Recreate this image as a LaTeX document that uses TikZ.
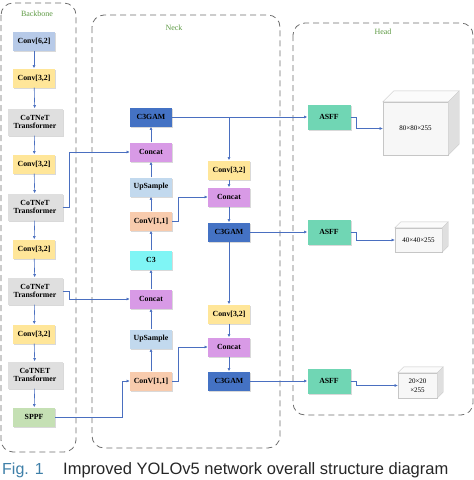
\documentclass[tikz,border=0pt]{standalone}
\usepackage{fontspec}
\setmainfont{Liberation Serif}
\newfontfamily\capfont{Liberation Sans}
\usetikzlibrary{positioning, arrows.meta, shadows}

\definecolor{lnblue}{HTML}{4A6FC0}
\definecolor{boxgray}{HTML}{6E6E6E}
\definecolor{lblgreen}{HTML}{5E9A44}
\definecolor{cconv}{HTML}{B7CAE8}
\definecolor{cyel}{HTML}{FFE699}
\definecolor{ccot}{HTML}{DFDFDF}
\definecolor{csppf}{HTML}{C5E0B4}
\definecolor{cgam}{HTML}{4472C4}
\definecolor{ccat}{HTML}{D89AE6}
\definecolor{cup}{HTML}{C2D9EE}
\definecolor{cone}{HTML}{F8CBAD}
\definecolor{cthree}{HTML}{7FF5F5}
\definecolor{casff}{HTML}{70D6B4}
\definecolor{figblue}{HTML}{3E7FA8}

\begin{document}
\begin{tikzpicture}[x=1pt, y=-1pt, >={Latex[length=3.2pt,width=3pt]},
  blk/.style = {fill=#1, minimum width=42pt, minimum height=19pt, inner sep=1pt,
    font=\fontsize{7.8}{8.6}\selectfont\bfseries, align=center,
    drop shadow={shadow xshift=1.2pt, shadow yshift=-1.2pt, opacity=.3}},
  tall/.style = {blk=ccot, minimum width=55pt, minimum height=27pt},
  asff/.style = {blk=casff, minimum width=43pt, minimum height=25pt},
  part/.style = {draw=boxgray, dashed, dash pattern=on 6pt off 4pt, line width=.8pt, rounded corners=12pt},
  title/.style = {text=lblgreen, font=\fontsize{8}{9}\selectfont},
  cube/.style = {fill=gray!6, draw=gray!45, line width=.3pt, inner sep=1pt,
    font=\fontsize{7}{8.5}\selectfont, align=center},
  link/.style = {draw=lnblue, line width=.6pt}]
  \useasboundingbox (0,0) rectangle (474,480);

  % the three parts
  \draw[part] (1,3) rectangle (76,452);
  \draw[part] (92,15) rectangle (280,448);
  \draw[part] (293,23) rectangle (473,415);
  \node[title] (tbb) at (37,14) {Backbone};
  \node[title] (tnk) at (174,28) {Neck};
  \node[title] (thd) at (383,32) {Head};

  % backbone
  \node[blk=cconv] (c62) at (34,41) {Conv[6,2]};
  \node[blk=cyel] (c32a) at (34,78) {Conv[3,2]};
  \node[tall] (cot1) at (35,122) {CoTNeT\\Transformer};
  \node[blk=cyel] (c32b) at (34,164) {Conv[3,2]};
  \node[tall] (cot2) at (35,207) {CoTNeT\\Transformer};
  \node[blk=cyel] (c32c) at (34,249) {Conv[3,2]};
  \node[tall] (cot3) at (35,291) {CoTNeT\\Transformer};
  \node[blk=cyel] (c32d) at (34,334) {Conv[3,2]};
  \node[tall] (cot4) at (35,375) {CoTNET\\Transformer};
  \node[blk=csppf] (sppf) at (34,417) {SPPF};

  % neck
  \node[blk=cgam] (gam1) at (151,117) {C3GAM};
  \node[blk=ccat] (cat1) at (151,152) {Concat};
  \node[blk=cup] (up1) at (151,187) {UpSample};
  \node[blk=cone] (cv1) at (151,221) {ConV[1,1]};
  \node[blk=cthree] (c3) at (151,260) {C3};
  \node[blk=ccat] (cat2) at (151,299) {Concat};
  \node[blk=cup] (up2) at (151,339) {UpSample};
  \node[blk=cone] (cv2) at (151,381) {ConV[1,1]};
  \node[blk=cyel] (c32e) at (229,170) {Conv[3,2]};
  \node[blk=ccat] (cat3) at (229,197) {Concat};
  \node[blk=cgam] (gam2) at (229,232) {C3GAM};
  \node[blk=cyel] (c32f) at (229,314) {Conv[3,2]};
  \node[blk=ccat] (cat4) at (229,347) {Concat};
  \node[blk=cgam] (gam3) at (229,381) {C3GAM};

  % head
  \node[asff] (asf1) at (329,117) {ASFF};
  \node[asff] (asf2) at (329,232) {ASFF};
  \node[asff] (asf3) at (329,381) {ASFF};
  \node[cube, minimum width=65pt, minimum height=53pt] (out1) at (415.5,128.5) {80×80×255};
  \node[cube, minimum width=47pt, minimum height=24pt] (out2) at (418.5,240) {40×40×255};
  \node[cube, minimum width=39pt, minimum height=25pt] (out3) at (417.5,385.5) {20×20\\×255};
  \foreach \o/\d in {out1/11, out2/6, out3/6} {
    \filldraw[fill=gray!3, draw=gray!45, line width=.3pt] (\o.north west) -- ++(\d,-\d) -| ([xshift=\d pt, yshift=\d pt]\o.north east) -- (\o.north east) -- cycle;
    \filldraw[fill=gray!25, draw=gray!45, line width=.3pt] (\o.north east) -- ++(\d,-\d) -- ([xshift=\d pt, yshift=\d pt]\o.south east) -- (\o.south east) -- cycle;
  }

  % backbone links
  \draw[link, ->] (c62) -- (c32a);
  \draw[link, ->] (c32a) -- (cot1);
  \draw[link, ->] (cot1) -- (c32b);
  \draw[link, ->] (c32b) -- (cot2);
  \draw[link, ->] (cot2) -- (c32c);
  \draw[link, ->] (c32c) -- (cot3);
  \draw[link, ->] (cot3) -- (c32d);
  \draw[link, ->] (c32d) -- (cot4);
  \draw[link, ->] (cot4) -- (sppf);
  \draw[link, ->] (cot2.east) -- ++(7,0) |- (cat1.west);
  \draw[link, ->] (cot3.east) -- ++(7,0) |- (cat2.west);
  \draw[link, ->] (sppf.east) -| ([xshift=-8pt]cv2.west) -- (cv2.west);

  % neck links
  \draw[link, ->] (cv2) -- (up2);
  \draw[link, ->] (up2) -- (cat2);
  \draw[link, ->] (cat2) -- (c3);
  \draw[link, ->] (c3) -- (cv1);
  \draw[link, ->] (cv1) -- (up1);
  \draw[link, ->] (up1) -- (cat1);
  \draw[link, ->] (cat1) -- (gam1);
  \draw[link, ->] (gam1) -- (asf1);
  \draw[link, ->] (gam1.east -| c32e.north) -- (c32e.north);
  \draw[link, ->] (c32e) -- (cat3);
  \draw[link, ->] (cv1.east) -- ++(6,0) |- (cat3.west);
  \draw[link, ->] (cat3) -- (gam2);
  \draw[link, ->] (gam2) -- (asf2);
  \draw[link, ->] (gam2) -- (c32f);
  \draw[link, ->] (c32f) -- (cat4);
  \draw[link, ->] (cv2.east) -- ++(6,0) |- (cat4.west);
  \draw[link, ->] (cat4) -- (gam3);
  \draw[link, ->] (gam3) -- (asf3);

  % head links
  \draw[link, ->] (asf1.east) -- ++(6,0) |- (out1.west);
  \draw[link, ->] (asf2.east) -- ++(6,0) |- (out2.west);
  \draw[link, ->] (asf3.east) -- ++(6,0) |- (out3.west);

  % caption
  \node[anchor=base west, inner sep=0pt, text=figblue, font=\fontsize{16}{16}\selectfont\capfont] (fig) at (2,474.5) {Fig. 1};
  \node[anchor=base west, inner sep=0pt, text=black!85, font=\fontsize{16.5}{16.5}\selectfont\capfont] (cap) at (63,474.5) {Improved YOLOv5 network overall structure diagram};
\end{tikzpicture}
\end{document}
